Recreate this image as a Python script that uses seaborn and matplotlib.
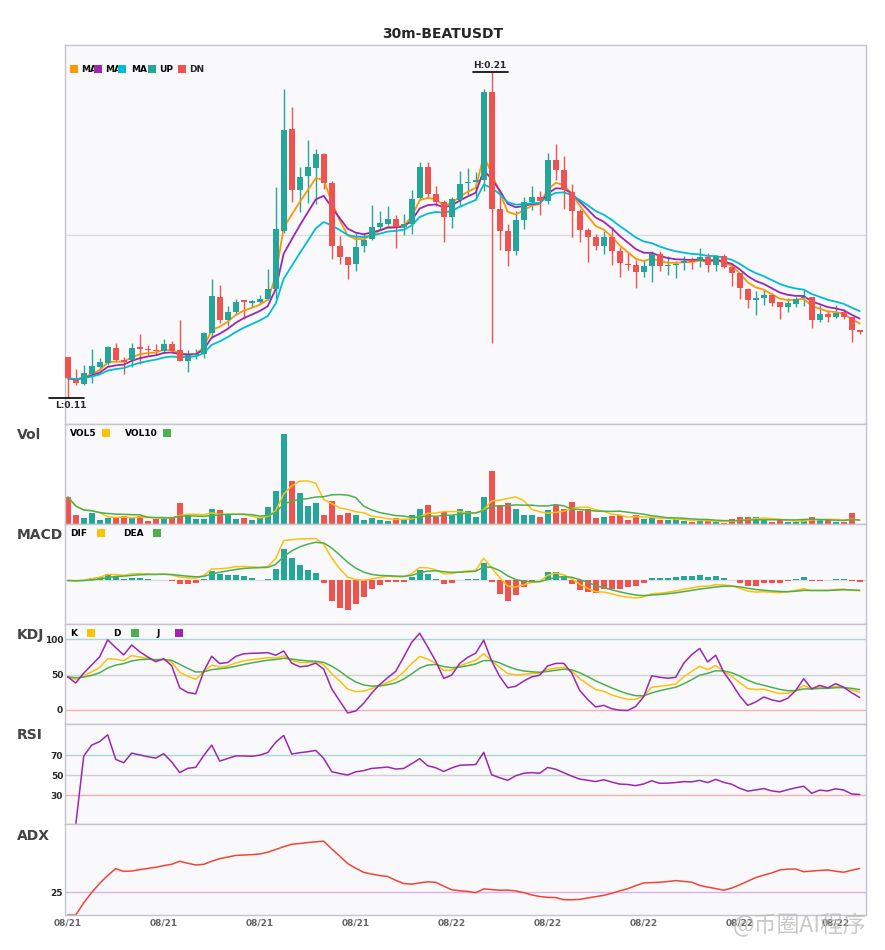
import numpy as np
import pandas as pd
import matplotlib
matplotlib.use("Agg")
import matplotlib.pyplot as plt
from matplotlib.patches import Rectangle
import seaborn as sns

# ---------------- data ----------------
title = "30m-BEATUSDT"
opens = [0.1223, 0.1153, 0.1141, 0.1173, 0.1195, 0.1207, 0.1253, 0.1213, 0.1214, 0.1253,
         0.1247, 0.1244, 0.1244, 0.1263, 0.1245, 0.1212, 0.1230, 0.1234, 0.1298, 0.1410,
         0.1338, 0.1364, 0.1396, 0.1390, 0.1392, 0.1403, 0.1432, 0.1612, 0.1925, 0.1738,
         0.1781, 0.1805, 0.1848, 0.1759, 0.1564, 0.1531, 0.1509, 0.1564, 0.1587, 0.1625,
         0.1634, 0.1649, 0.1625, 0.1634, 0.1714, 0.1808, 0.1726, 0.1701, 0.1653, 0.1707,
         0.1757, 0.1762, 0.1768, 0.2038, 0.1680, 0.1612, 0.1551, 0.1646, 0.1701, 0.1716,
         0.1704, 0.1830, 0.1799, 0.1732, 0.1674, 0.1615, 0.1592, 0.1566, 0.1594, 0.1551,
         0.1508, 0.1508, 0.1485, 0.1505, 0.1542, 0.1503, 0.1506, 0.1514, 0.1520, 0.1520,
         0.1530, 0.1506, 0.1533, 0.1502, 0.1482, 0.1433, 0.1399, 0.1407, 0.1416, 0.1392,
         0.1377, 0.1387, 0.1405, 0.1408, 0.1338, 0.1356, 0.1347, 0.1362, 0.1347, 0.1307]
highs = [0.1226, 0.1188, 0.1200, 0.1248, 0.1220, 0.1258, 0.1266, 0.1226, 0.1268, 0.1294,
         0.1262, 0.1265, 0.1279, 0.1273, 0.1337, 0.1247, 0.1248, 0.1302, 0.1465, 0.1446,
         0.1382, 0.1404, 0.1397, 0.1400, 0.1414, 0.1496, 0.1745, 0.2047, 0.1993, 0.1808,
         0.1889, 0.1863, 0.1851, 0.1765, 0.1596, 0.1531, 0.1605, 0.1605, 0.1692, 0.1674,
         0.1689, 0.1661, 0.1664, 0.1738, 0.1824, 0.1824, 0.1750, 0.1707, 0.1716, 0.1796,
         0.1805, 0.1792, 0.2046, 0.2100, 0.1723, 0.1634, 0.1674, 0.1716, 0.1750, 0.1735,
         0.1851, 0.1879, 0.1842, 0.1756, 0.1680, 0.1621, 0.1603, 0.1612, 0.1622, 0.1563,
         0.1547, 0.1523, 0.1523, 0.1551, 0.1549, 0.1533, 0.1518, 0.1536, 0.1532, 0.1560,
         0.1543, 0.1539, 0.1542, 0.1514, 0.1482, 0.1436, 0.1426, 0.1432, 0.1422, 0.1392,
         0.1405, 0.1410, 0.1432, 0.1410, 0.1383, 0.1370, 0.1383, 0.1371, 0.1347, 0.1308]
lows = [0.1100, 0.1138, 0.1138, 0.1145, 0.1187, 0.1199, 0.1209, 0.1171, 0.1194, 0.1202,
        0.1230, 0.1232, 0.1236, 0.1236, 0.1212, 0.1178, 0.1217, 0.1220, 0.1284, 0.1328,
        0.1320, 0.1352, 0.1342, 0.1377, 0.1386, 0.1398, 0.1401, 0.1606, 0.1699, 0.1668,
        0.1697, 0.1695, 0.1740, 0.1526, 0.1511, 0.1465, 0.1487, 0.1546, 0.1585, 0.1615,
        0.1629, 0.1558, 0.1598, 0.1603, 0.1707, 0.1714, 0.1687, 0.1576, 0.1619, 0.1687,
        0.1723, 0.1707, 0.1735, 0.1266, 0.1553, 0.1505, 0.1539, 0.1618, 0.1677, 0.1661,
        0.1695, 0.1768, 0.1680, 0.1594, 0.1576, 0.1517, 0.1554, 0.1542, 0.1508, 0.1471,
        0.1493, 0.1435, 0.1471, 0.1456, 0.1488, 0.1475, 0.1466, 0.1493, 0.1496, 0.1502,
        0.1485, 0.1487, 0.1499, 0.1442, 0.1404, 0.1374, 0.1353, 0.1383, 0.1381, 0.1341,
        0.1362, 0.1377, 0.1380, 0.1313, 0.1331, 0.1331, 0.1344, 0.1341, 0.1272, 0.1295]
closes = [0.1159, 0.1145, 0.1174, 0.1196, 0.1208, 0.1254, 0.1216, 0.1209, 0.1253, 0.1249,
          0.1245, 0.1242, 0.1263, 0.1244, 0.1213, 0.1230, 0.1234, 0.1298, 0.1413, 0.1337,
          0.1364, 0.1394, 0.1394, 0.1392, 0.1404, 0.1432, 0.1617, 0.1922, 0.1738, 0.1778,
          0.1808, 0.1848, 0.1758, 0.1564, 0.1531, 0.1506, 0.1563, 0.1585, 0.1625, 0.1637,
          0.1649, 0.1625, 0.1634, 0.1710, 0.1808, 0.1726, 0.1701, 0.1653, 0.1710, 0.1756,
          0.1762, 0.1768, 0.2038, 0.1680, 0.1612, 0.1551, 0.1646, 0.1701, 0.1716, 0.1704,
          0.1830, 0.1799, 0.1738, 0.1674, 0.1615, 0.1592, 0.1566, 0.1594, 0.1551, 0.1513,
          0.1506, 0.1485, 0.1505, 0.1542, 0.1503, 0.1505, 0.1511, 0.1520, 0.1517, 0.1530,
          0.1506, 0.1533, 0.1502, 0.1482, 0.1436, 0.1399, 0.1407, 0.1416, 0.1390, 0.1377,
          0.1390, 0.1401, 0.1410, 0.1338, 0.1356, 0.1347, 0.1359, 0.1347, 0.1307, 0.1301]
volumes = [273, 93, 63, 113, 43, 63, 63, 83, 73, 83,
           33, 53, 70, 70, 213, 93, 53, 53, 153, 143,
           97, 53, 63, 43, 63, 173, 333, 903, 433, 313,
           183, 213, 93, 233, 93, 113, 93, 43, 63, 43,
           33, 63, 43, 93, 153, 193, 73, 123, 93, 153,
           133, 73, 273, 533, 193, 213, 153, 93, 93, 73,
           143, 193, 153, 223, 133, 153, 63, 73, 83, 93,
           43, 93, 53, 63, 43, 43, 53, 33, 23, 43,
           33, 23, 13, 53, 73, 73, 73, 43, 23, 43,
           23, 23, 53, 73, 53, 43, 23, 23, 113, 3]
date_labels = ["08/21", "08/21", "08/21", "08/21", "08/22", "08/22", "08/22", "08/22", "08/22"]
ma_spans = [5, 8, 13]
macd_params = (6, 13, 5)

# ---------------- style ----------------
sns.set_theme(style="white")
plt.rcParams["font.family"] = ["DejaVu Sans"]

UP = "#26a69a"
DN = "#ef5350"
MA_COLORS = ["#ff9800", "#9c27b0", "#00bcd4"]
YEL = "#ffc107"
GRN = "#4caf50"
PUR = "#9c27b0"
ADXC = "#f44336"
BG = "#f9f9fb"
SPINE = "#c4c4cc"

o = pd.Series(opens); h = pd.Series(highs); l = pd.Series(lows); c = pd.Series(closes)
v = pd.Series(volumes, dtype=float)
n = len(c)
idx = np.arange(n)
up_mask = (c >= o).values
colors = np.where(up_mask, UP, DN)

# ---------------- indicators ----------------
mas = [c.ewm(span=s, adjust=False).mean() for s in ma_spans]
vol5 = v.rolling(5, min_periods=1).mean()
vol10 = v.rolling(10, min_periods=1).mean()
fast, slow, sig = macd_params
dif = c.ewm(span=fast, adjust=False).mean() - c.ewm(span=slow, adjust=False).mean()
dea = dif.ewm(span=sig, adjust=False).mean()
hist = 2 * (dif - dea)
ll = l.rolling(9, min_periods=1).min()
hh = h.rolling(9, min_periods=1).max()
rsv = ((c - ll) / (hh - ll) * 100).fillna(50)
K = rsv.ewm(com=2, adjust=False).mean()
D = K.ewm(com=2, adjust=False).mean()
J = 3 * K - 2 * D
delta = c.diff()
gain = delta.clip(lower=0)
loss = -delta.clip(upper=0)
ag = gain.ewm(alpha=1 / 14, adjust=True).mean()
al = loss.ewm(alpha=1 / 14, adjust=True).mean()
rsi = 100 * ag / (ag + al)
upm = h.diff(); dnm = -l.diff()
pdm = pd.Series(np.where((upm > dnm) & (upm > 0), upm, 0.0))
mdm = pd.Series(np.where((dnm > upm) & (dnm > 0), dnm, 0.0))
pc = c.shift(1)
tr = pd.concat([h - l, (h - pc).abs(), (l - pc).abs()], axis=1).max(axis=1)
atr = tr.ewm(span=14, adjust=False).mean()
pdi = 100 * pdm.ewm(span=14, adjust=False).mean() / atr
mdi = 100 * mdm.ewm(span=14, adjust=False).mean() / atr
dx = (100 * (pdi - mdi).abs() / (pdi + mdi)).fillna(0)
adx = dx.ewm(span=14, adjust=False).mean()

# ---------------- layout ----------------
W, H = 885, 950
fig = plt.figure(figsize=(W / 100, H / 100), dpi=100)
fig.patch.set_facecolor("white")
fx = lambda px: px / W
fy = lambda py: 1 - py / H
L0, R0 = 65.3, 865.7

def make_ax(top, bottom):
    ax = fig.add_axes([fx(L0), fy(bottom), fx(R0) - fx(L0), (bottom - top) / H])
    ax.set_facecolor(BG)
    for s in ax.spines.values():
        s.set_color(SPINE); s.set_linewidth(1.0)
    ax.set_xlim(-0.3, n - 0.25)
    ax.tick_params(length=0, labelsize=6.5, pad=1.5)
    ax.set_xticks([])
    return ax

ax_main = make_ax(45, 424.3)
ax_vol = make_ax(424.3, 524.3)
ax_macd = make_ax(524.3, 624.3)
ax_kdj = make_ax(624.3, 724.3)
ax_rsi = make_ax(724.3, 824.3)
ax_adx = make_ax(824.3, 915)

def line(ax, y, color, lw=1.2):
    sns.lineplot(x=idx, y=np.asarray(y, dtype=float), ax=ax, color=color,
                 linewidth=lw, legend=False, errorbar=None)
    ax.set_xlabel(""); ax.set_ylabel("")

# ---------------- main candles ----------------
ax = ax_main
pmin, pmax = l.min(), h.max()
pad = 0.082 * (pmax - pmin)
ax.set_ylim(pmin - pad, pmax + pad)
ax.set_yticks([])
ax.axhline(0.16, color="#dcdce2", lw=1, zorder=0)
ax.vlines(idx, l, h, colors=colors, lw=1.0, zorder=2)
body = np.maximum((c - o).abs().values, 0.0005)
ax.bar(idx, body, bottom=np.minimum(o, c).values, width=0.75, color=colors, zorder=3, linewidth=0)
for m, col in zip(mas, MA_COLORS):
    line(ax, m, col, 1.3)
ax.set_xlim(-0.3, n - 0.25)
imax = int(h.idxmax()); imin = int(l.idxmin())
ax.plot([imax - 2.4, imax + 2.0], [pmax, pmax], color="black", lw=1.2, clip_on=False, zorder=5)
ax.annotate(f"H:{pmax:.2f}", (imax - 0.2, pmax), xytext=(0, 1.5), textcoords="offset points",
            ha="center", va="bottom", fontsize=6.5, weight="bold", annotation_clip=False)
ax.plot([imin - 2.4, imin + 2.0], [pmin, pmin], color="black", lw=1.2, clip_on=False, zorder=5)
ax.annotate(f"L:{pmin:.2f}", (imin + 0.4, pmin), xytext=(0, -2.5), textcoords="offset points",
            ha="center", va="top", fontsize=6.5, weight="bold", annotation_clip=False)

# ---------------- volume ----------------
ax = ax_vol
ax.bar(idx, v, width=0.75, color=colors, linewidth=0, zorder=2)
line(ax, vol5, YEL, 1.1)
line(ax, vol10, GRN, 1.1)
ax.set_ylim(0, v.max() * 1.105)
ax.set_yticks([])
ax.set_xlim(-0.3, n - 0.25)

# ---------------- MACD ----------------
ax = ax_macd
ax.axhline(0, color="#dddddd", lw=1, zorder=0)
ax.bar(idx, hist, width=0.75, color=np.where(hist >= 0, UP, DN), linewidth=0, zorder=2)
line(ax, dif, YEL, 1.1)
line(ax, dea, GRN, 1.1)
lo = min(dif.min(), dea.min(), hist.min()); hi = max(dif.max(), dea.max(), hist.max())
ax.set_ylim(lo - 0.2 * (hi - lo), hi + 0.2 * (hi - lo))
ax.set_yticks([])
ax.set_xlim(-0.3, n - 0.25)

# ---------------- KDJ ----------------
ax = ax_kdj
ax.axhline(100, color="#a6d9d6", lw=1, zorder=0)
ax.axhline(50, color="#cfcfd4", lw=1, zorder=0)
ax.axhline(0, color="#f5b0b0", lw=1, zorder=0)
line(ax, K, YEL, 1.1)
line(ax, D, GRN, 1.1)
line(ax, J, PUR, 1.1)
ax.set_ylim(-20.3, 121.2)
ax.set_yticks([0, 50, 100])
ax.set_yticklabels(["0", "50", "100"])
ax.set_xlim(-0.3, n - 0.25)

# ---------------- RSI ----------------
ax = ax_rsi
ax.axhline(70, color="#a6d9d6", lw=1, zorder=0)
ax.axhline(50, color="#cfcfd4", lw=1, zorder=0)
ax.axhline(30, color="#f5b0b0", lw=1, zorder=0)
line(ax, rsi, PUR, 1.1)
ax.set_ylim(1, 101)
ax.set_yticks([30, 50, 70])
ax.set_yticklabels(["30", "50", "70"])
ax.set_xlim(-0.3, n - 0.25)

# ---------------- ADX ----------------
ax = ax_adx
ax.axhline(25, color="#ddb0ea", lw=1, zorder=0)
line(ax, adx, ADXC, 1.1)
ax.set_ylim(0, 100)
ax.set_yticks([25])
ax.set_yticklabels(["25"])
ax.set_xlim(-0.3, n - 0.25)
ax.set_xticks(np.arange(len(date_labels)) * 12)
ax.set_xticklabels(date_labels)
ax.tick_params(axis="x", colors="#666666", labelsize=6.5, pad=2.5)

for a in [ax_kdj, ax_rsi, ax_adx]:
    for t in a.get_yticklabels() + a.get_xticklabels():
        t.set_fontweight("bold")

# ---------------- texts / legends ----------------
fig.text(0.5, fy(34), title, ha="center", va="center", fontsize=10, weight="bold")
for lab, ypx in [("Vol", 435), ("MACD", 535), ("KDJ", 635), ("RSI", 735), ("ADX", 836)]:
    fig.text(fx(17), fy(ypx), lab, ha="left", va="center", fontsize=10, weight="bold", color="#444444")

def legend_items(items, yc):
    for label, tx, sx, col in items:
        if label:
            fig.text(fx(tx), fy(yc), label, ha="left", va="center", fontsize=6.5,
                     weight="bold", color="black", zorder=10)
        fig.add_artist(Rectangle((fx(sx), fy(yc + 4)), 8 / W, 8 / H, transform=fig.transFigure,
                                 facecolor=col, edgecolor="none", zorder=11))

legend_items([("", 0, 70, MA_COLORS[0]), ("MA", 81, 94, MA_COLORS[1]), ("MA", 105, 118, MA_COLORS[2]),
              ("MA", 131, 148, UP), ("UP", 159, 178, DN)], 69)
fig.text(fx(189), fy(69), "DN", ha="left", va="center", fontsize=6.5, weight="bold", zorder=10)
legend_items([("VOL5", 70, 101.7, YEL), ("VOL10", 125, 163.3, GRN)], 433.3)
legend_items([("DIF", 70, 97.3, YEL), ("DEA", 123.3, 153.3, GRN)], 533.3)
legend_items([("K", 70, 87.3, YEL), ("D", 113.3, 131.3, GRN), ("J", 156.7, 175.3, PUR)], 633.3)

fig.text(fx(733), fy(925), "@币圈AI程序", ha="left", va="center", fontsize=16.5,
         color="#b8b8b8", alpha=0.75, family=["Noto Sans CJK SC", "DejaVu Sans"], zorder=12)

fig.savefig("out.png", dpi=100, facecolor="white")
